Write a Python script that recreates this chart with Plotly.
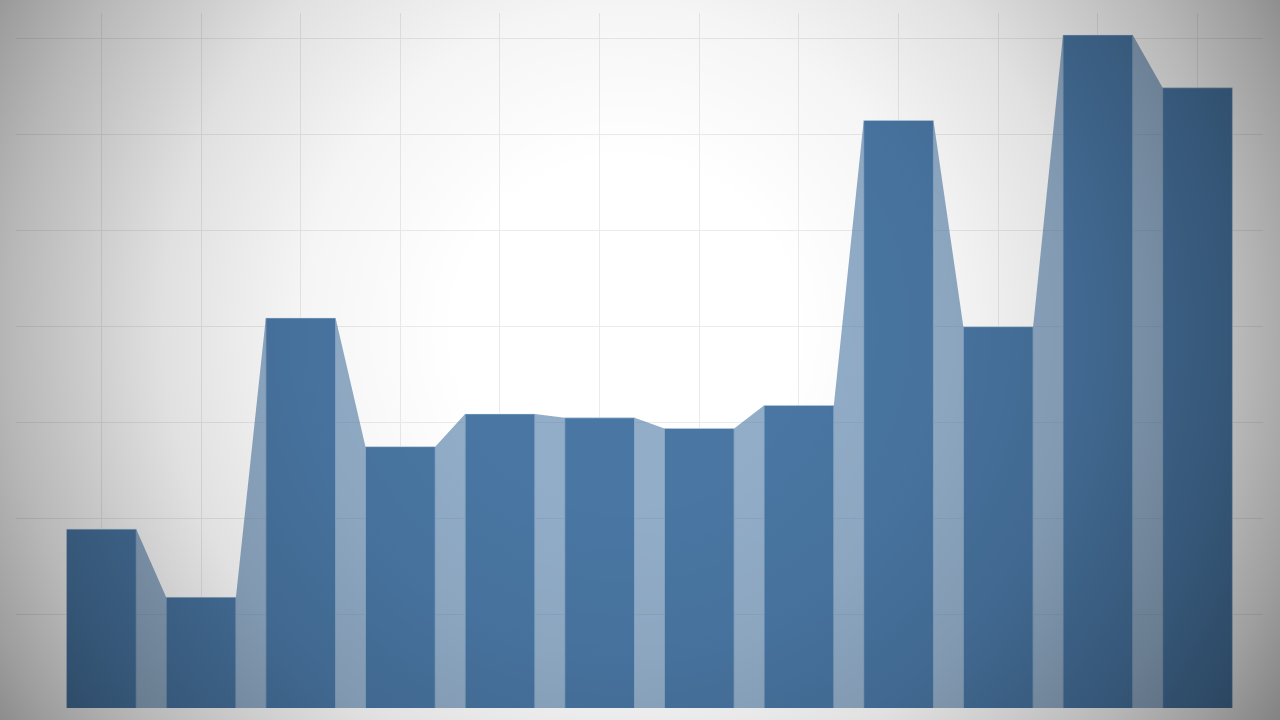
import base64
import plotly.graph_objects as go

# ---- data ----
categories = list(range(12))
values = [18.9, 11.8, 40.9, 27.5, 30.9, 30.5, 29.4, 31.8, 61.5, 40.0, 70.4, 64.9]
y_ticks = [10, 20, 30, 40, 50, 60, 70]

BAR_W = 0.7
half = BAR_W / 2

# connecting area: runs along bar tops, sloping in the gaps
area_x, area_y = [], []
for c, v in zip(categories, values):
    area_x += [c - half, c + half]
    area_y += [v, v]

W, H = 1280, 720
ML, MR, MT, MB = 16, 17, 13, 12
PW, PH = W - ML - MR, H - MT - MB

fig = go.Figure()
fig.add_trace(go.Scatter(
    x=area_x, y=area_y, mode="lines", fill="tozeroy",
    line=dict(width=0), fillcolor="rgba(74,119,163,0.6)",
    hoverinfo="skip", showlegend=False,
))
fig.add_trace(go.Bar(
    x=categories, y=values, width=BAR_W,
    marker=dict(color="#4a77a3", line=dict(color="rgba(232,240,248,0.95)", width=1)),
    showlegend=False,
))

svg = (
    "<svg xmlns='http://www.w3.org/2000/svg' width='1280' height='720' viewBox='0 0 1280 720' "
    "preserveAspectRatio='none'><defs><radialGradient id='v' gradientUnits='userSpaceOnUse' "
    "cx='625' cy='330' r='770'>"
    "<stop offset='0' stop-color='#000' stop-opacity='0'/>"
    "<stop offset='0.22' stop-color='#000' stop-opacity='0'/>"
    "<stop offset='0.42' stop-color='#000' stop-opacity='0.04'/>"
    "<stop offset='0.6' stop-color='#000' stop-opacity='0.12'/>"
    "<stop offset='0.8' stop-color='#000' stop-opacity='0.28'/>"
    "<stop offset='0.9' stop-color='#000' stop-opacity='0.38'/>"
    "<stop offset='1' stop-color='#000' stop-opacity='0.5'/>"
    "</radialGradient></defs><rect width='1280' height='720' fill='url(#v)'/></svg>"
)
src = "data:image/svg+xml;base64," + base64.b64encode(svg.encode()).decode()

fig.update_layout(
    width=W, height=H,
    margin=dict(l=ML, r=MR, t=MT, b=MB),
    paper_bgcolor="white", plot_bgcolor="white",
    bargap=0.3,
    xaxis=dict(range=[-0.857, 11.657], tickvals=categories, showticklabels=False,
               showgrid=True, gridcolor="#ebebeb", gridwidth=1, zeroline=False,
               showline=False, ticks=""),
    yaxis=dict(range=[0.26, 72.7], tickvals=y_ticks, showticklabels=False,
               showgrid=True, gridcolor="#ebebeb", gridwidth=1, zeroline=False,
               showline=False, ticks=""),
    images=[dict(source=src, xref="paper", yref="paper",
                 x=-ML / PW, y=1 + MT / PH, sizex=W / PW, sizey=H / PH,
                 xanchor="left", yanchor="top", sizing="stretch", layer="above")],
)

fig.write_html("out.html", config={"displayModeBar": False},
               post_script="document.body.style.margin='0';document.body.style.overflow='hidden';")
